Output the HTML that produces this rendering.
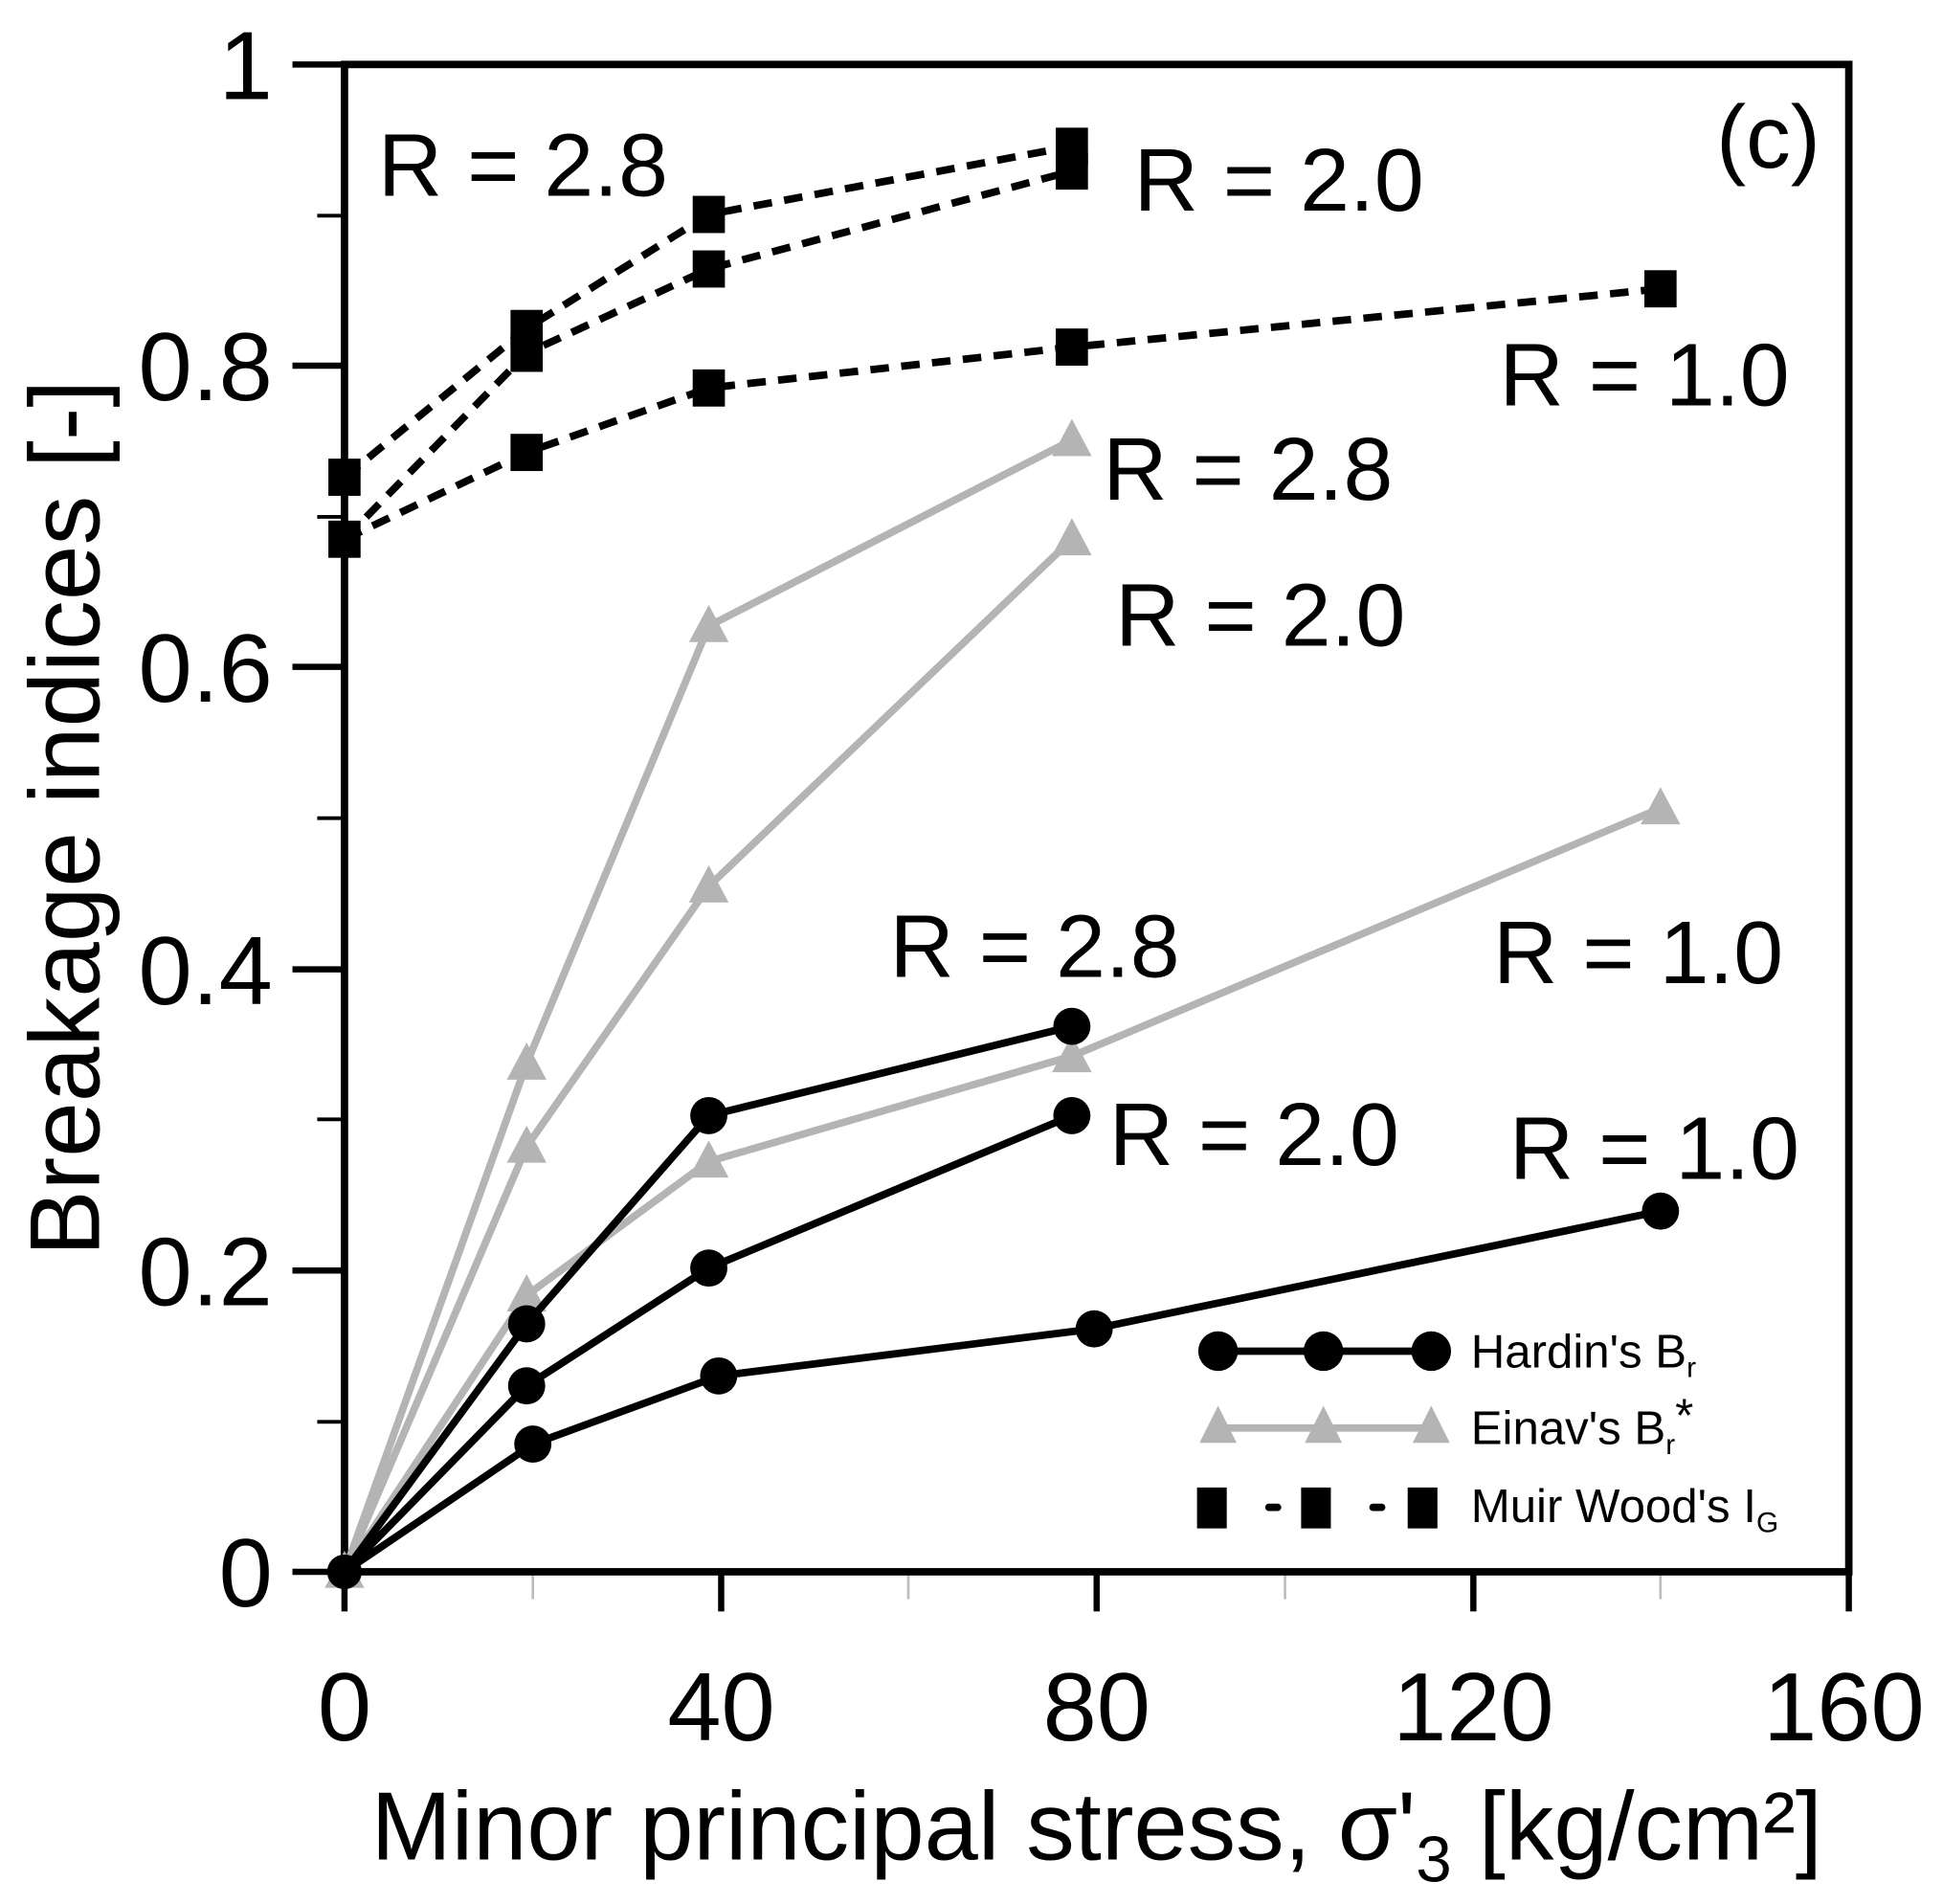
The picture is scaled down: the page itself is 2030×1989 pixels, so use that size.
<!DOCTYPE html>
<html><head><meta charset="utf-8"><style>html,body{margin:0;padding:0;background:#fff}svg{display:block}</style></head>
<body>
<svg width="2030" height="1989" viewBox="0 0 1568 1536" preserveAspectRatio="none" xmlns="http://www.w3.org/2000/svg" font-family="Liberation Sans, sans-serif">
<rect width="1568" height="1536" fill="#fff"/>
<g stroke="#bbb" stroke-width="2">
<line x1="430" y1="1268" x2="430" y2="1290"/><line x1="733" y1="1268" x2="733" y2="1290"/><line x1="1037" y1="1268" x2="1037" y2="1290"/><line x1="1340" y1="1268" x2="1340" y2="1290"/>
</g>
<g stroke="#000" stroke-width="5">
<line x1="278" y1="1268" x2="278" y2="1300"/><line x1="582" y1="1268" x2="582" y2="1300"/><line x1="885" y1="1268" x2="885" y2="1300"/><line x1="1189" y1="1268" x2="1189" y2="1300"/><line x1="1492" y1="1268" x2="1492" y2="1300"/>
<line x1="236" y1="52" x2="278" y2="52"/><line x1="236" y1="295" x2="278" y2="295"/><line x1="236" y1="538" x2="278" y2="538"/><line x1="236" y1="782" x2="278" y2="782"/><line x1="236" y1="1025" x2="278" y2="1025"/><line x1="236" y1="1268" x2="278" y2="1268"/>
</g>
<g stroke="#000" stroke-width="3">
<line x1="256" y1="174" x2="278" y2="174"/><line x1="256" y1="417" x2="278" y2="417"/><line x1="256" y1="660" x2="278" y2="660"/><line x1="256" y1="903" x2="278" y2="903"/><line x1="256" y1="1147" x2="278" y2="1147"/>
</g>
<rect x="278" y="52" width="1214" height="1216" fill="none" stroke="#000" stroke-width="6"/>
<g font-size="78" text-anchor="end" fill="#000">
<text x="220" y="80">1</text><text x="220" y="323">0.8</text><text x="220" y="566">0.6</text><text x="220" y="810">0.4</text><text x="220" y="1053">0.2</text><text x="220" y="1296">0</text>
</g>
<g font-size="78" text-anchor="middle" fill="#000">
<text x="278" y="1404">0</text><text x="582" y="1404">40</text><text x="885" y="1404">80</text><text x="1189" y="1404">120</text><text x="1488" y="1404">160</text>
</g>
<text x="885" y="1500" font-size="78" text-anchor="middle">Minor principal stress, σ'<tspan font-size="52" dy="18">3</tspan><tspan dy="-18"> [kg/cm²]</tspan></text>
<text transform="translate(80,660) rotate(-90)" font-size="80" text-anchor="middle">Breakage indices [-]</text>
<g stroke="#b4b4b4" stroke-width="6" fill="none">
<polyline points="278,1268 425,858 572,505 865,355"/>
<polyline points="278,1268 425,925 572,715 865,435"/>
<polyline points="278,1268 425,1045 572,937 865,852 1340,652"/>
</g>
<g fill="#b4b4b4">
<path d="M425,841 l-16,30 h32z M572,488 l-16,30 h32z M865,338 l-16,30 h32z M425,908 l-16,30 h32z M572,698 l-16,30 h32z M865,418 l-16,30 h32z M425,1028 l-16,30 h32z M572,920 l-16,30 h32z M865,835 l-16,30 h32z M1340,635 l-16,30 h32z M278,1251 l-16,30 h32z"/>
</g>
<g stroke="#000" stroke-width="6" fill="none">
<polyline points="278,1268 425,1068 572,900 865,828"/>
<polyline points="278,1268 425,1118 572,1023 865,900"/>
<polyline points="278,1268 430,1165 580,1110 883,1072 1340,977"/>
</g>
<g fill="#000">
<circle cx="278" cy="1268" r="14"/><circle cx="425" cy="1068" r="15"/><circle cx="572" cy="900" r="15"/><circle cx="865" cy="828" r="15"/>
<circle cx="425" cy="1118" r="15"/><circle cx="572" cy="1023" r="15"/><circle cx="865" cy="900" r="15"/>
<circle cx="430" cy="1165" r="15"/><circle cx="580" cy="1110" r="15"/><circle cx="883" cy="1072" r="15"/><circle cx="1340" cy="977" r="15"/>
</g>
<g stroke="#000" stroke-width="6" fill="none" stroke-dasharray="15,10">
<polyline points="278,385 425,265 572,173 865,118"/>
<polyline points="278,435 425,285 572,217 865,138"/>
<polyline points="278,435 425,365 572,313 865,280 1340,233"/>
</g>
<g fill="#000">
<rect x="265" y="370" width="26" height="30"/><rect x="412" y="250" width="26" height="30"/><rect x="559" y="158" width="26" height="30"/><rect x="852" y="103" width="26" height="30"/>
<rect x="265" y="420" width="26" height="30"/><rect x="412" y="270" width="26" height="30"/><rect x="559" y="202" width="26" height="30"/><rect x="852" y="123" width="26" height="30"/>
<rect x="412" y="350" width="26" height="30"/><rect x="559" y="298" width="26" height="30"/><rect x="852" y="265" width="26" height="30"/><rect x="1327" y="218" width="26" height="30"/>
</g>
<g font-size="72" fill="#000">
<text x="305" y="158">R = 2.8</text><text x="915" y="170">R = 2.0</text><text x="1210" y="327">R = 1.0</text>
<text x="890" y="403">R = 2.8</text><text x="900" y="521">R = 2.0</text><text x="1205" y="793">R = 1.0</text>
<text x="718" y="788">R = 2.8</text><text x="895" y="940">R = 2.0</text><text x="1218" y="951">R = 1.0</text>
<text x="1385" y="135">(c)</text>
</g>
<line x1="983" y1="1090" x2="1155" y2="1090" stroke="#000" stroke-width="6"/>
<circle cx="983" cy="1090" r="16"/><circle cx="1068" cy="1090" r="16"/><circle cx="1155" cy="1090" r="16"/>
<line x1="983" y1="1152" x2="1155" y2="1152" stroke="#b4b4b4" stroke-width="6"/>
<path fill="#b4b4b4" d="M983,1134 l-15,30 h30z M1068,1134 l-15,30 h30z M1155,1134 l-15,30 h30z"/>
<rect x="966" y="1200" width="24" height="33"/><rect x="1050" y="1200" width="24" height="33"/><rect x="1136" y="1200" width="24" height="33"/>
<rect x="1021" y="1213" width="13" height="6" rx="3"/><rect x="1105" y="1213" width="13" height="6" rx="3"/>
<g font-size="38" fill="#000">
<text x="1187" y="1103">Hardin's B<tspan font-size="23" dy="8">r</tspan></text>
<text x="1187" y="1165">Einav's B<tspan font-size="23" dy="8">r</tspan><tspan dy="-18">*</tspan></text>
<text x="1187" y="1228">Muir Wood's I<tspan font-size="23" dy="8">G</tspan></text>
</g>
</svg>
</body></html>
